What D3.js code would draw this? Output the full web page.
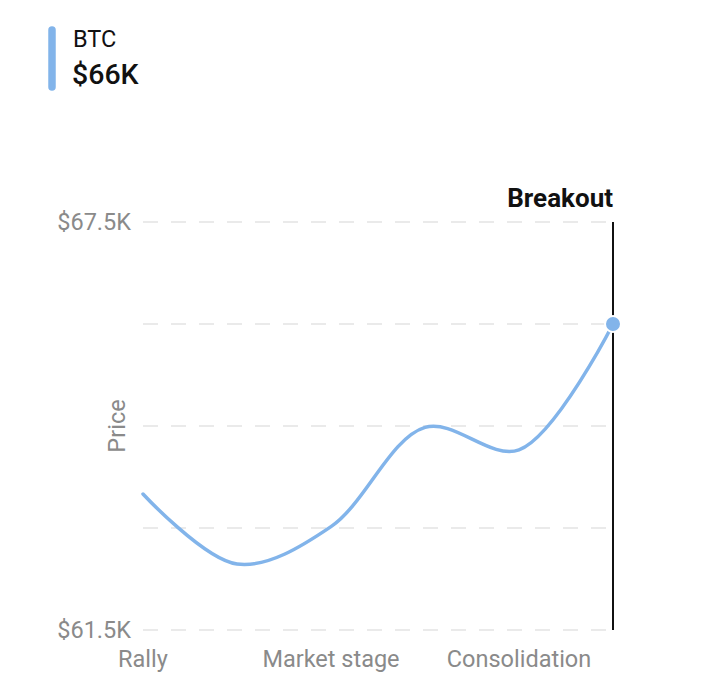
<!DOCTYPE html>
<html>
<head>
<meta charset="utf-8">
<script src="https://cdn.jsdelivr.net/npm/d3@7"></script>
<style>
  body { margin: 0; background: #fff; }
  text { font-family: Roboto, "Noto Sans", sans-serif; }
</style>
</head>
<body>
<div id="chart"></div>
<script>
const width = 720;
const height = 685;

const margin = {
    "top": 222,
    "left": 143,
    "bottom": 55,
    "right": 107
}

// data
const categories = ["Rally", "Pullback", "Recovery", "Surge", "Consolidation", "Breakout"];
const prices = [63.5, 62.47, 63.02, 64.48, 64.15, 66.0];
const yTicks = [61.5, 63, 64.5, 66, 67.5];
const yLabelTicks = [61.5, 67.5];
const xLabelIndex = [0, 4];
const seriesName = "BTC";
const xTitle = "Market stage";
const yTitle = "Price";

const data = categories.map((c, i) => ({ category: c, value: prices[i] }));
const lineColor = "#82b4ea";
const labelSize = "23.5px";

const fmt = d => "$" + d3.format(".1f")(d) + "K";

//scales
const xScale = d3.scalePoint()
    .domain(categories)
    .range([margin.left, width - margin.right]);

const yScale = d3.scaleLinear()
    .domain([61.5, 67.5])
    .range([height - margin.bottom, margin.top]);

const svg = d3.select("#chart").append("svg").attr("width", width).attr("height", height);

// legend
svg.append("line")
    .attr("x1", 52).attr("x2", 52)
    .attr("y1", 30).attr("y2", 87)
    .attr("stroke", lineColor)
    .attr("stroke-width", 7.5)
    .attr("stroke-linecap", "round");

svg.append("text")
    .attr("x", 73).attr("y", 47)
    .style("font-size", "23.5px")
    .style("fill", "#111")
    .text(seriesName);

svg.append("text")
    .attr("x", 72).attr("y", 84)
    .style("font-size", "28.5px")
    .style("font-weight", 500)
    .style("fill", "#111")
    .text(fmt(prices[prices.length - 1]).replace(".0", ""));

// gridlines
svg.selectAll("line.grid")
    .data(yTicks)
    .join("line")
    .attr("class", "grid")
    .attr("x1", margin.left)
    .attr("x2", width - margin.right)
    .attr("y1", d => yScale(d))
    .attr("y2", d => yScale(d))
    .attr("stroke", "#e4e4e4")
    .attr("stroke-width", 1.5)
    .attr("stroke-dasharray", "15,13");

// y labels
svg.selectAll("text.yLabel")
    .data(yLabelTicks)
    .join("text")
    .attr("class", "yLabel")
    .attr("x", margin.left - 12)
    .attr("y", d => yScale(d))
    .attr("dy", "0.35em")
    .attr("text-anchor", "end")
    .style("font-size", labelSize)
    .style("fill", "#8a8a8a")
    .text(fmt);

svg.append("text")
    .attr("transform", `translate(125,${(yScale(61.5) + yScale(67.5)) / 2}) rotate(-90)`)
    .attr("text-anchor", "middle")
    .style("font-size", labelSize)
    .style("fill", "#8a8a8a")
    .text(yTitle);

// x labels
svg.selectAll("text.xLabel")
    .data(xLabelIndex)
    .join("text")
    .attr("class", "xLabel")
    .attr("x", d => xScale(categories[d]))
    .attr("y", 667)
    .attr("text-anchor", "middle")
    .style("font-size", labelSize)
    .style("fill", "#8a8a8a")
    .text(d => categories[d]);

svg.append("text")
    .attr("x", xScale(categories[2]))
    .attr("y", 667)
    .attr("text-anchor", "middle")
    .style("font-size", labelSize)
    .style("fill", "#8a8a8a")
    .text(xTitle);

// hover marker on last point
const last = data[data.length - 1];
svg.append("line")
    .attr("x1", xScale(last.category)).attr("x2", xScale(last.category))
    .attr("y1", yScale(67.5)).attr("y2", yScale(61.5))
    .attr("stroke", "#111")
    .attr("stroke-width", 2);

svg.append("text")
    .attr("x", xScale(last.category))
    .attr("y", yScale(67.5) - 15)
    .attr("text-anchor", "end")
    .style("font-size", "26px")
    .style("font-weight", 700)
    .style("fill", "#111")
    .text(last.category);

// line
const line = d3.line()
    .x(d => xScale(d.category))
    .y(d => yScale(d.value))
    .curve(d3.curveCatmullRom.alpha(0.5));

svg.append("path")
    .datum(data)
    .attr("fill", "none")
    .attr("stroke", lineColor)
    .attr("stroke-width", 3.5)
    .attr("stroke-linecap", "round")
    .attr("d", line);

svg.append("circle")
    .attr("cx", xScale(last.category))
    .attr("cy", yScale(last.value))
    .attr("r", 8)
    .attr("fill", lineColor)
    .attr("stroke", "#fff")
    .attr("stroke-width", 2);
</script>
</body>
</html>
